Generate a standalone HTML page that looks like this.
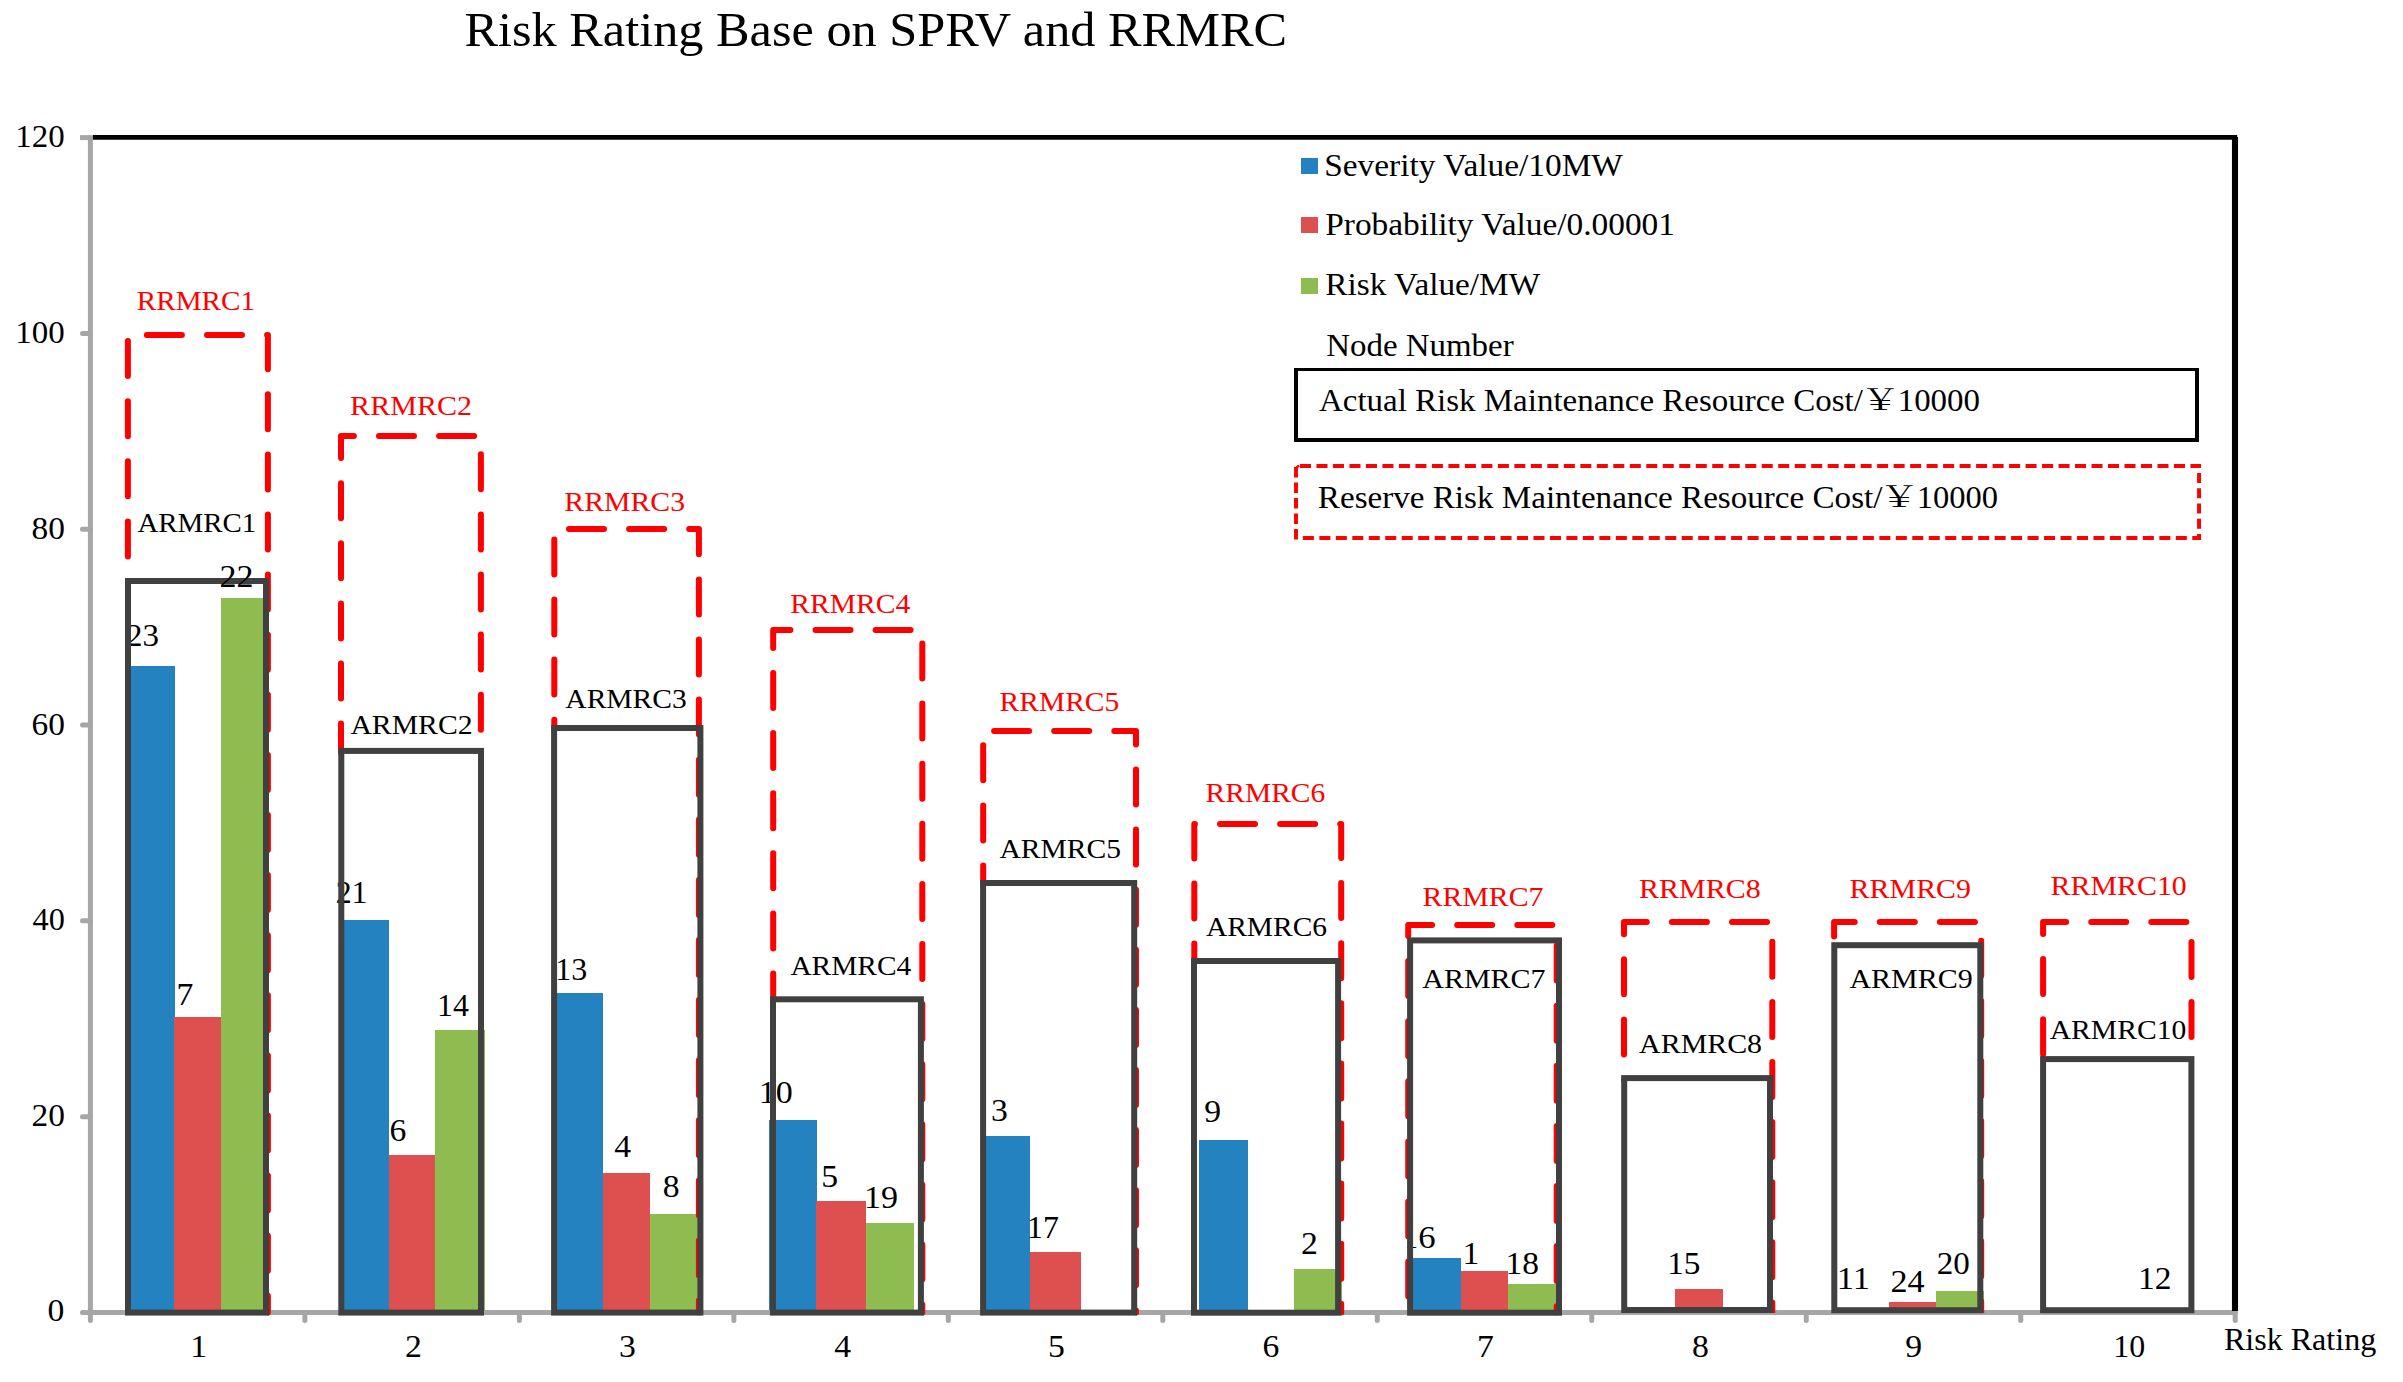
<!DOCTYPE html><html><head><meta charset="utf-8"><title>Risk Rating Base on SPRV and RRMRC</title>
<style>html,body{margin:0;padding:0;background:#fff;overflow:hidden;width:2403px;height:1382px}svg{display:block}text{font-family:'Liberation Serif', 'Noto Serif CJK SC', serif;white-space:pre}</style></head><body>
<svg width="2403" height="1382" viewBox="0 0 2403 1382">
<rect width="2403" height="1382" fill="#fff"/>
<g shape-rendering="crispEdges">
<rect x="126.15" y="666.10" width="48.35" height="646.40" fill="#2482C0"/>
<rect x="174.20" y="1016.80" width="47.10" height="295.70" fill="#DE504F"/>
<rect x="221.00" y="597.90" width="48.43" height="714.60" fill="#8EBC50"/>
<rect x="340.70" y="919.90" width="48.30" height="392.60" fill="#2482C0"/>
<rect x="388.70" y="1155.10" width="46.70" height="157.40" fill="#DE504F"/>
<rect x="435.10" y="1030.10" width="50.10" height="282.40" fill="#8EBC50"/>
<rect x="555.11" y="993.10" width="47.89" height="319.40" fill="#2482C0"/>
<rect x="602.70" y="1172.90" width="47.60" height="139.60" fill="#DE504F"/>
<rect x="650.00" y="1214.00" width="48.39" height="98.50" fill="#8EBC50"/>
<rect x="768.90" y="1119.80" width="47.60" height="192.70" fill="#2482C0"/>
<rect x="816.20" y="1200.90" width="50.20" height="111.60" fill="#DE504F"/>
<rect x="866.10" y="1222.90" width="48.20" height="89.60" fill="#8EBC50"/>
<rect x="984.00" y="1136.00" width="46.30" height="176.50" fill="#2482C0"/>
<rect x="1030.00" y="1252.10" width="51.10" height="60.40" fill="#DE504F"/>
<rect x="1198.55" y="1140.20" width="49.75" height="172.30" fill="#2482C0"/>
<rect x="1293.80" y="1269.10" width="48.03" height="43.40" fill="#8EBC50"/>
<rect x="1412.90" y="1257.90" width="48.40" height="54.60" fill="#2482C0"/>
<rect x="1461.00" y="1270.80" width="47.30" height="41.70" fill="#DE504F"/>
<rect x="1508.00" y="1284.10" width="48.30" height="28.40" fill="#8EBC50"/>
<rect x="1675.00" y="1289.10" width="48.00" height="23.40" fill="#DE504F"/>
<rect x="1889.10" y="1301.80" width="47.30" height="10.70" fill="#DE504F"/>
<rect x="1936.10" y="1291.10" width="47.50" height="21.40" fill="#8EBC50"/>
</g>
<g stroke="#A6A6A6" stroke-width="5" fill="none">
<path d="M90.40 135.20V1312.50"/>
<path d="M90.40 1312.50V1320.5" stroke-linecap="round"/>
<path d="M82.5 1312.50H2235.20" stroke-linecap="round"/>
<path d="M82.5 1116.68H90.40" stroke-linecap="round"/>
<path d="M82.5 920.87H90.40" stroke-linecap="round"/>
<path d="M82.5 725.05H90.40" stroke-linecap="round"/>
<path d="M82.5 529.23H90.40" stroke-linecap="round"/>
<path d="M82.5 333.42H90.40" stroke-linecap="round"/>
<path d="M80 137.60H90.40"/>
<path d="M304.88 1312.50V1320.5" stroke-linecap="round"/>
<path d="M519.36 1312.50V1320.5" stroke-linecap="round"/>
<path d="M733.84 1312.50V1320.5" stroke-linecap="round"/>
<path d="M948.32 1312.50V1320.5" stroke-linecap="round"/>
<path d="M1162.80 1312.50V1320.5" stroke-linecap="round"/>
<path d="M1377.28 1312.50V1320.5" stroke-linecap="round"/>
<path d="M1591.76 1312.50V1320.5" stroke-linecap="round"/>
<path d="M1806.24 1312.50V1320.5" stroke-linecap="round"/>
<path d="M2020.72 1312.50V1320.5" stroke-linecap="round"/>
<path d="M2235.20 1312.50V1320.5" stroke-linecap="round"/>
</g>
<path d="M92.90 137.40H2237.20" stroke="#000" stroke-width="4.8" fill="none"/>
<path d="M2235.00 137.10V1311.00" stroke="#000" stroke-width="6.1" fill="none"/>
<g>
<defs><clipPath id="c16"><rect x="1407" y="1215" width="40" height="40"/></clipPath></defs>
<text transform="translate(125.95 645.60) scale(1.0483 1)" font-size="31.5">23</text>
<text transform="translate(176.41 1004.80) scale(1.0700 1)" font-size="31.5">7</text>
<text transform="translate(335.69 903.20) scale(1.0103 1)" font-size="31.5">21</text>
<text transform="translate(389.44 1140.90) scale(1.0700 1)" font-size="31.5">6</text>
<text transform="translate(436.97 1016.00) scale(1.0107 1)" font-size="31.5">14</text>
<text transform="translate(555.16 979.90) scale(1.0148 1)" font-size="31.5">13</text>
<text transform="translate(614.32 1156.60) scale(1.0700 1)" font-size="31.5">4</text>
<text transform="translate(662.84 1197.20) scale(1.0700 1)" font-size="31.5">8</text>
<text transform="translate(758.66 1102.80) scale(1.0815 1)" font-size="31.5">10</text>
<text transform="translate(821.15 1186.50) scale(1.0700 1)" font-size="31.5">5</text>
<text transform="translate(864.06 1207.70) scale(1.0815 1)" font-size="31.5">19</text>
<text transform="translate(990.89 1120.60) scale(1.0700 1)" font-size="31.5">3</text>
<text transform="translate(1026.97 1237.90) scale(1.0107 1)" font-size="31.5">17</text>
<text transform="translate(1204.29 1122.30) scale(1.0700 1)" font-size="31.5">9</text>
<text transform="translate(1300.92 1254.00) scale(1.0700 1)" font-size="31.5">2</text>
<g clip-path="url(#c16)"><text transform="translate(1400.99 1248.10) scale(1.1036 1)" font-size="31.5">16</text></g>
<text transform="translate(1462.40 1264.20) scale(1.0700 1)" font-size="31.5">1</text>
<text transform="translate(1505.61 1274.00) scale(1.0630 1)" font-size="31.5">18</text>
<text transform="translate(1667.13 1273.60) scale(1.0556 1)" font-size="31.5">15</text>
<text transform="translate(1836.71 1288.60) scale(1.0960 1)" font-size="31.5">11</text>
<text transform="translate(1890.52 1291.60) scale(1.0833 1)" font-size="31.5">24</text>
<text transform="translate(1936.75 1273.60) scale(1.0517 1)" font-size="31.5">20</text>
<text transform="translate(2138.11 1288.60) scale(1.0630 1)" font-size="31.5">12</text>
</g>
<defs><clipPath id="ca"><rect x="0" y="0" width="1600" height="1315.5"/></clipPath><clipPath id="cb"><rect x="1600" y="0" width="803" height="1313"/></clipPath></defs>
<g clip-path="url(#ca)" stroke="#FF0000" stroke-width="6.0" fill="none" stroke-linecap="round" stroke-linejoin="round" stroke-dasharray="35.0 25.10">
<path d="M127.9 583.0V335H267.9V1312.5" stroke-dashoffset="-26.60"/>
<path d="M341 752.9V436H480.9V752.9" stroke-dashoffset="-54.40"/>
<path d="M554.3 730V529H698.9V1312.5" stroke-dashoffset="-35.40"/>
<path d="M773.2 1001.3V630.1H922.3V1312.5" stroke-dashoffset="-52.90"/>
<path d="M983.2 885V731.1H1136V1312.5" stroke-dashoffset="-44.60"/>
<path d="M1194.3 963V824H1341.2V1312.5" stroke-dashoffset="-44.50"/>
<path d="M1408.2 1312.5V924.9H1556.7V1312.5" stroke-dashoffset="-15.90"/>
</g>
<g clip-path="url(#cb)" stroke="#FF0000" stroke-width="6.0" fill="none" stroke-linecap="round" stroke-linejoin="round" stroke-dasharray="35.0 25.10">
<path d="M1624 1080.1V922H1772.3V1312.5" stroke-dashoffset="-25.70"/>
<path d="M1834.1 947.2V922H1981.2V1312.5" stroke-dashoffset="-10.80"/>
<path d="M2043.1 1061.1V922H2191.5V1061.1" stroke-dashoffset="-6.90"/>
</g>
<g stroke="#404040" stroke-width="6" fill="none" stroke-linejoin="miter">
<rect x="128.0" y="581.0" width="138.00" height="731.60"/>
<rect x="341.3" y="750.9" width="139.70" height="561.70"/>
<rect x="554.1" y="728" width="146.30" height="584.60"/>
<rect x="773" y="999.3" width="147.90" height="313.30"/>
<rect x="983.1" y="883" width="151.10" height="429.60"/>
<rect x="1194" y="961" width="144.10" height="351.70"/>
<rect x="1410.1" y="940.4" width="148.90" height="372.30"/>
<rect x="1624.2" y="1078.1" width="145.80" height="231.90"/>
<rect x="1834.3" y="945.2" width="146.00" height="365.00"/>
<rect x="2043.1" y="1059.1" width="148.30" height="251.10"/>
</g>
<g>
<text transform="translate(219.52 586.70) scale(1.0759 1)" font-size="31.5">22</text>
<text transform="translate(137.40 531.80) scale(1.0595 1)" font-size="27.3">ARMRC1</text>
<text transform="translate(350.40 733.50) scale(1.0892 1)" font-size="27.3">ARMRC2</text>
<text transform="translate(565.30 708.10) scale(1.0820 1)" font-size="27.3">ARMRC3</text>
<text transform="translate(790.40 975.00) scale(1.0768 1)" font-size="27.3">ARMRC4</text>
<text transform="translate(999.40 857.80) scale(1.0838 1)" font-size="27.3">ARMRC5</text>
<text transform="translate(1205.90 935.90) scale(1.0793 1)" font-size="27.3">ARMRC6</text>
<text transform="translate(1422.30 988.10) scale(1.0982 1)" font-size="27.3">ARMRC7</text>
<text transform="translate(1639.10 1052.80) scale(1.0955 1)" font-size="27.3">ARMRC8</text>
<text transform="translate(1849.40 988.10) scale(1.1000 1)" font-size="27.3">ARMRC9</text>
<text transform="translate(2049.70 1039.30) scale(1.0848 1)" font-size="27.3">ARMRC10</text>
</g>
<g shape-rendering="crispEdges">
<rect x="1301" y="158.3" width="17" height="15.5" fill="#2482C0"/>
<rect x="1301" y="217.1" width="17" height="15.5" fill="#DE504F"/>
<rect x="1301" y="278.2" width="17" height="15.5" fill="#8EBC50"/>
</g>
<path fill-rule="evenodd" d="M1294 368H2199V441.9H1294ZM1298 371H2195V437.9H1298Z" fill="#000"/>
<g stroke="#FF0000" stroke-width="3.95" fill="none">
<path d="M1300 466H2201" stroke-dasharray="11 5.49"/>
<path d="M1302.9 538H2201" stroke-dasharray="11 5.47"/>
<path d="M1296 467V540" stroke-dasharray="10.4 5.1"/>
<path d="M1296 468.2L1299 465.4" stroke-width="2.5"/>
<path d="M2199.05 473V540" stroke-dasharray="10 5.25"/>
</g>
<g>
<text transform="translate(464.44 45.70) scale(1.0596 1)" font-size="47.5">Risk Rating Base on SPRV and RRMRC</text>
<text transform="translate(1324.17 175.50) scale(1.0631 1)" font-size="31.4">Severity Value/10MW</text>
<text transform="translate(1325.24 234.60) scale(1.0632 1)" font-size="31.4">Probability Value/0.00001</text>
<text transform="translate(1325.24 294.80) scale(1.0604 1)" font-size="31.4">Risk Value/MW</text>
<text transform="translate(1326.25 355.90) scale(1.0489 1)" font-size="31.4">Node Number</text>
<text transform="translate(1319.00 410.90) scale(1.0502 1)" font-size="31.4">Actual Risk Maintenance Resource Cost/</text>
<text transform="translate(1859.74 410.10) scale(1.4316 1)" font-size="28.7">￥</text>
<text transform="translate(1897.65 410.90) scale(1.0500 1)" font-size="31.4">10000</text>
<text transform="translate(1317.85 508.20) scale(1.0547 1)" font-size="31.4">Reserve Risk Maintenance Resource Cost/</text>
<text transform="translate(1878.77 507.20) scale(1.4263 1)" font-size="28.7">￥</text>
<text transform="translate(1916.79 508.20) scale(1.0351 1)" font-size="31.4">10000</text>
<text transform="translate(2223.97 1349.70) scale(1.0342 1)" font-size="31">Risk Rating</text>
<text transform="translate(15.26 147.10) scale(1.0465 1)" font-size="31.5">120</text>
<text transform="translate(15.26 342.92) scale(1.0465 1)" font-size="31.5">100</text>
<text transform="translate(31.54 538.73) scale(1.0621 1)" font-size="31.5">80</text>
<text transform="translate(31.54 734.55) scale(1.0621 1)" font-size="31.5">60</text>
<text transform="translate(32.60 930.37) scale(1.0267 1)" font-size="31.5">40</text>
<text transform="translate(31.54 1126.18) scale(1.0621 1)" font-size="31.5">20</text>
<text transform="translate(47.39 1320.80) scale(1.0700 1)" font-size="31.5">0</text>
<text transform="translate(190.31 1356.50) scale(1.0700 1)" font-size="31.5">1</text>
<text transform="translate(404.98 1356.50) scale(1.0700 1)" font-size="31.5">2</text>
<text transform="translate(618.94 1356.50) scale(1.0700 1)" font-size="31.5">3</text>
<text transform="translate(834.27 1356.50) scale(1.0700 1)" font-size="31.5">4</text>
<text transform="translate(1047.90 1356.50) scale(1.0700 1)" font-size="31.5">5</text>
<text transform="translate(1262.44 1356.50) scale(1.0700 1)" font-size="31.5">6</text>
<text transform="translate(1476.90 1356.50) scale(1.0700 1)" font-size="31.5">7</text>
<text transform="translate(1691.94 1356.50) scale(1.0700 1)" font-size="31.5">8</text>
<text transform="translate(1905.34 1356.50) scale(1.0700 1)" font-size="31.5">9</text>
<text transform="translate(2113.36 1356.70) scale(1.0148 1)" font-size="31.5">10</text>
<text transform="translate(136.73 310.10) scale(1.0694 1)" font-size="27.3" fill="#FF0000">RRMRC1</text>
<text transform="translate(350.10 415.00) scale(1.1019 1)" font-size="27.3" fill="#FF0000">RRMRC2</text>
<text transform="translate(564.31 511.20) scale(1.0908 1)" font-size="27.3" fill="#FF0000">RRMRC3</text>
<text transform="translate(790.32 612.80) scale(1.0835 1)" font-size="27.3" fill="#FF0000">RRMRC4</text>
<text transform="translate(999.52 711.20) scale(1.0817 1)" font-size="27.3" fill="#FF0000">RRMRC5</text>
<text transform="translate(1205.52 802.30) scale(1.0817 1)" font-size="27.3" fill="#FF0000">RRMRC6</text>
<text transform="translate(1422.51 906.20) scale(1.0927 1)" font-size="27.3" fill="#FF0000">RRMRC7</text>
<text transform="translate(1639.00 897.50) scale(1.0991 1)" font-size="27.3" fill="#FF0000">RRMRC8</text>
<text transform="translate(1849.60 897.50) scale(1.0972 1)" font-size="27.3" fill="#FF0000">RRMRC9</text>
<text transform="translate(2050.60 895.00) scale(1.0951 1)" font-size="27.3" fill="#FF0000">RRMRC10</text>
</g>
</svg></body></html>
